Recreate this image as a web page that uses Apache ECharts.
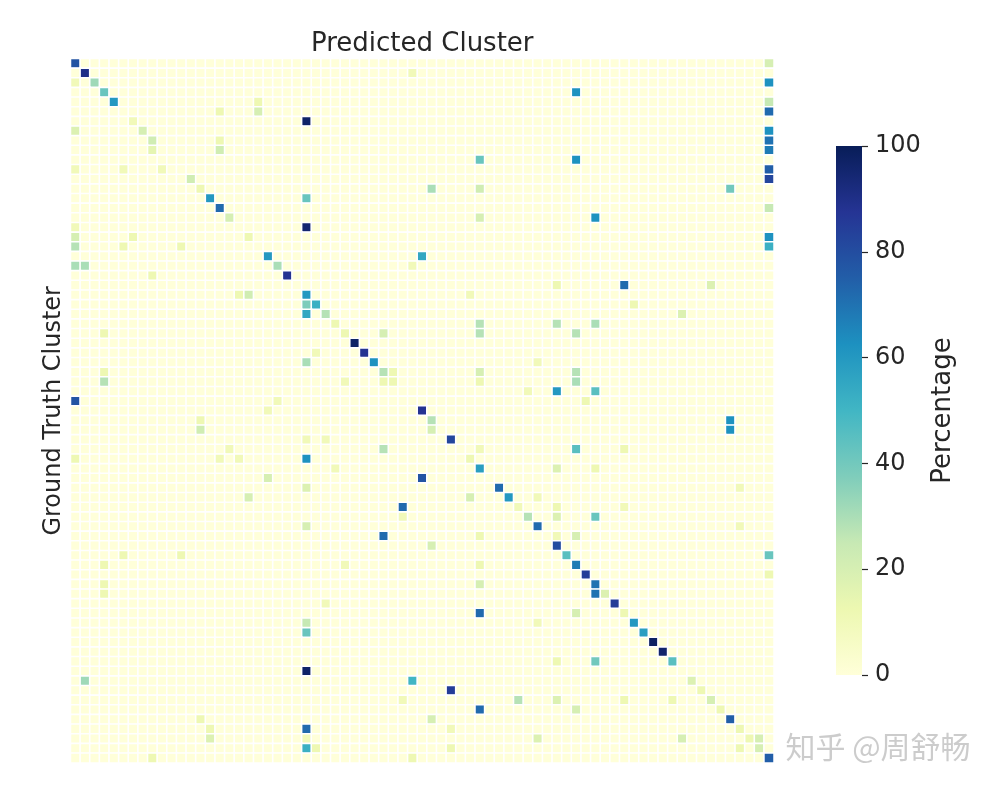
<!DOCTYPE html>
<html>
<head>
<meta charset="utf-8">
<script src="https://cdn.jsdelivr.net/npm/echarts@6/dist/echarts.min.js"></script>
<style>html,body{margin:0;padding:0;background:#fff;}#chart{width:1000px;height:790px;}</style>
</head>
<body>
<div id="chart"></div>
<script>
// number of clusters (73 x 73 grid)
const clusterCount = 73;
// non-zero cells: [groundTruthRow, predictedCol, percentage]; all others are 0
const cells = [
[0,0,78],[0,72,20],
[1,1,90],[1,35,10],
[2,0,10],[2,2,32],[2,72,62],
[3,3,42],[3,52,62],
[4,4,60],[4,19,12],[4,72,25],
[5,15,12],[5,19,20],[5,72,72],
[6,6,10],[6,24,97],
[7,0,18],[7,7,20],[7,72,62],
[8,8,22],[8,15,12],[8,72,70],
[9,8,15],[9,15,22],[9,72,68],
[10,42,42],[10,52,62],
[11,0,10],[11,5,10],[11,9,10],[11,72,75],
[12,12,22],[12,72,82],
[13,13,12],[13,37,30],[13,42,22],[13,68,40],
[14,14,60],[14,24,42],
[15,15,72],[15,72,25],
[16,16,20],[16,42,20],[16,54,62],
[17,0,10],[17,24,95],
[18,0,20],[18,6,12],[18,18,12],[18,72,62],
[19,0,28],[19,5,12],[19,11,12],[19,72,52],
[20,20,60],[20,36,55],
[21,0,30],[21,1,30],[21,21,30],[21,35,10],
[22,8,12],[22,22,88],
[23,50,12],[23,57,72],[23,66,18],
[24,17,12],[24,18,22],[24,24,60],[24,41,10],
[25,24,38],[25,25,52],[25,58,12],
[26,24,55],[26,26,28],[26,63,18],
[27,27,12],[27,42,28],[27,50,28],[27,54,30],
[28,3,12],[28,28,12],[28,32,20],[28,42,28],[28,52,28],
[29,29,97],
[30,25,10],[30,30,88],
[31,24,30],[31,31,62],[31,48,10],
[32,3,12],[32,32,28],[32,33,12],[32,42,20],[32,52,28],
[33,3,28],[33,28,10],[33,32,12],[33,33,12],[33,42,12],[33,52,30],
[34,47,10],[34,50,60],[34,54,45],
[35,0,78],[35,21,10],[35,53,12],
[36,20,10],[36,36,88],
[37,13,12],[37,37,28],[37,68,62],
[38,13,22],[38,37,20],[38,68,62],
[39,24,10],[39,26,10],[39,39,82],
[40,16,10],[40,32,28],[40,42,10],[40,52,45],[40,57,12],
[41,0,12],[41,15,10],[41,17,10],[41,24,62],[41,41,12],
[42,27,10],[42,42,58],[42,50,18],[42,54,12],
[43,20,20],[43,36,78],
[44,24,18],[44,44,72],[44,69,10],
[45,18,20],[45,41,20],[45,45,60],[45,48,10],
[46,34,72],[46,46,10],[46,50,12],[46,57,10],
[47,34,10],[47,47,28],[47,50,18],[47,54,42],
[48,24,20],[48,48,72],[48,69,10],
[49,32,72],[49,42,12],[49,50,10],[49,52,20],
[50,37,20],[50,50,80],
[51,5,12],[51,11,12],[51,51,45],[51,72,42],
[52,3,12],[52,28,10],[52,42,12],[52,52,68],
[53,53,85],[53,72,12],
[54,3,12],[54,42,20],[54,54,70],
[55,3,12],[55,54,70],[55,55,18],
[56,26,10],[56,56,85],
[57,42,72],[57,52,20],[57,57,12],
[58,24,25],[58,48,10],[58,58,60],
[59,24,42],[59,59,58],
[60,60,98],
[61,61,96],
[62,50,12],[62,54,40],[62,62,45],
[63,24,97],
[64,1,32],[64,35,50],[64,64,18],
[65,39,85],[65,65,12],
[66,34,10],[66,46,28],[66,50,18],[66,57,12],[66,62,12],[66,66,20],
[67,42,72],[67,52,20],[67,67,12],
[68,13,12],[68,37,20],[68,68,75],
[69,14,12],[69,24,72],[69,39,10],[69,69,12],
[70,14,18],[70,24,10],[70,48,18],[70,63,20],[70,70,12],[70,71,20],
[71,24,52],[71,25,12],[71,39,12],[71,69,12],[71,71,20],
[72,8,12],[72,35,12],[72,72,75]
];
// colour bar ticks
const colorbarTicks = [0, 20, 40, 60, 80, 100];
// YlGnBu colour stops (low -> high)
const ylgnbu = ['#ffffd9','#edf8b1','#c7e9b4','#7fcdbb','#41b6c4','#1d91c0','#225ea8','#253494','#081d58'];

const categories = Array.from({length: clusterCount}, (_, i) => String(i));
const matrix = {};
cells.forEach(([r, c, v]) => { matrix[r + '_' + c] = v; });
const heatData = [];
for (let r = 0; r < clusterCount; r++) {
  for (let c = 0; c < clusterCount; c++) {
    heatData.push([c, r, matrix[r + '_' + c] || 0]);
  }
}

const FONT = 'DejaVu Sans';
const TXT = '#262626';
const chart = echarts.init(document.getElementById('chart'), null, {renderer: 'canvas'});
chart.setOption({
  animation: false,
  backgroundColor: '#ffffff',
  textStyle: {fontFamily: FONT},
  grid: [
    {left: 70.7, top: 58.7, width: 703.1, height: 704.2},
    {left: 836, top: 146, width: 26, height: 529}
  ],
  xAxis: [
    {type: 'category', gridIndex: 0, data: categories, position: 'top',
     name: 'Predicted Cluster', nameLocation: 'middle', nameGap: 1,
     nameTextStyle: {fontFamily: FONT, fontSize: 26, color: TXT, verticalAlign: 'bottom'},
     axisLine: {show: false}, axisTick: {show: false}, axisLabel: {show: false}, splitLine: {show: false}},
    {type: 'category', gridIndex: 1, data: ['bar'], show: false}
  ],
  yAxis: [
    {type: 'category', gridIndex: 0, data: categories, inverse: true,
     name: 'Ground Truth Cluster', nameLocation: 'middle', nameGap: 5, nameRotate: 90,
     nameTextStyle: {fontFamily: FONT, fontSize: 24, color: TXT, verticalAlign: 'bottom'},
     axisLine: {show: false}, axisTick: {show: false}, axisLabel: {show: false}, splitLine: {show: false}},
    {type: 'value', gridIndex: 1, min: 0, max: 100, interval: 20, position: 'right',
     name: 'Percentage', nameLocation: 'middle', nameGap: 68, nameRotate: 90,
     nameTextStyle: {fontFamily: FONT, fontSize: 26, color: TXT},
     axisLine: {show: false},
     axisTick: {show: true, length: 6, lineStyle: {color: TXT, width: 1.2}},
     axisLabel: {show: true, margin: 13, fontFamily: FONT, fontSize: 24, color: TXT,
       formatter: v => colorbarTicks.indexOf(v) >= 0 ? String(v) : ''},
     splitLine: {show: false}}
  ],
  visualMap: {
    show: false, type: 'continuous', min: 0, max: 100, seriesIndex: 0, dimension: 2,
    inRange: {color: ylgnbu}
  },
  series: [
    {type: 'heatmap', xAxisIndex: 0, yAxisIndex: 0, data: heatData, silent: true,
     itemStyle: {borderColor: '#ffffff', borderWidth: 1.6}},
    {type: 'bar', xAxisIndex: 1, yAxisIndex: 1, data: [100], barWidth: '100%', silent: true,
     itemStyle: {color: new echarts.graphic.LinearGradient(0, 1, 0, 0,
       ylgnbu.map((c, i) => ({offset: i / (ylgnbu.length - 1), color: c})))}}
  ],
  graphic: [
    {type: 'text', left: 785, top: 731,
     style: {text: '知乎 @周舒畅', fontFamily: 'Noto Sans CJK SC', fontSize: 30,
       fill: 'rgba(170,170,170,0.6)', stroke: 'rgba(255,255,255,0.8)', lineWidth: 1}}
  ]
});
</script>
</body>
</html>
